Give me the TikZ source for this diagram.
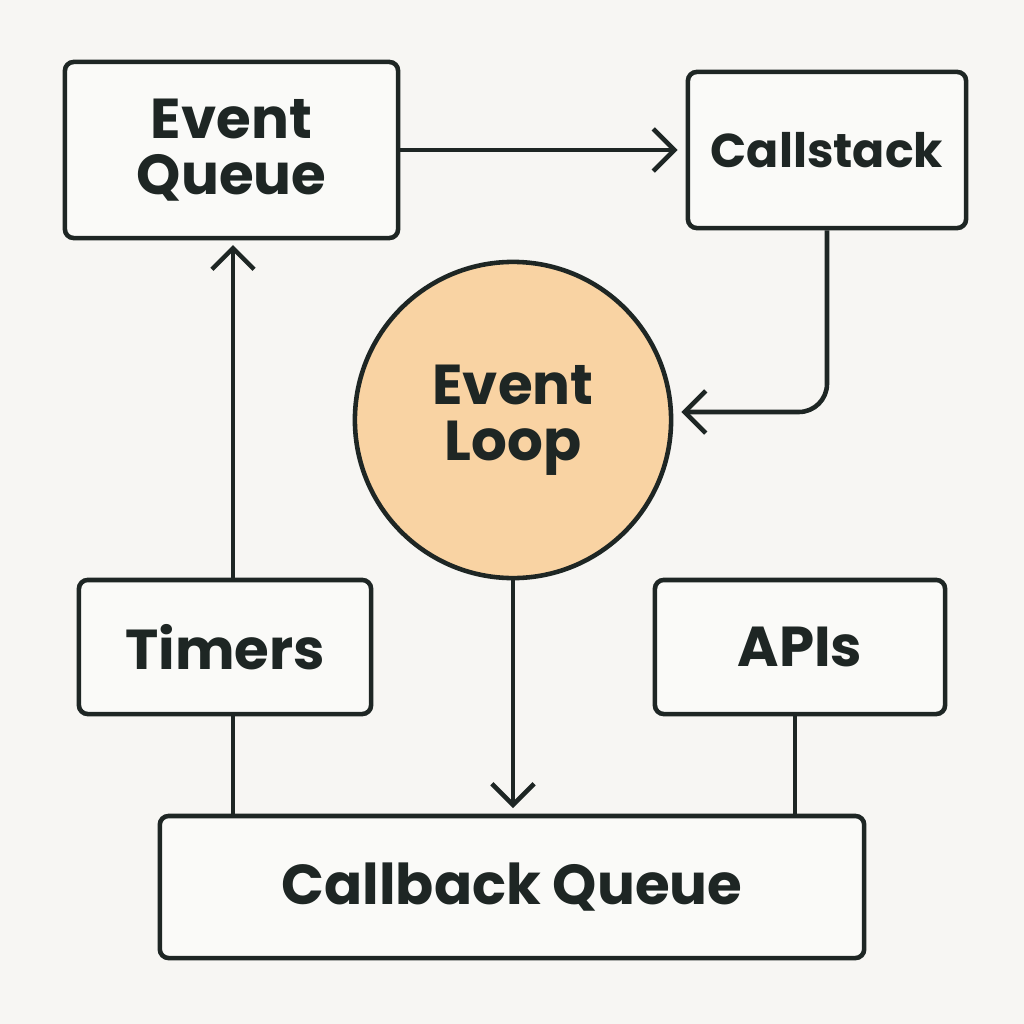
\documentclass[tikz,border=0pt]{standalone}
\usepackage{fontspec}
\setmainfont{Poppins}
\usetikzlibrary{arrows.meta}
\definecolor{bg}{HTML}{F7F6F3}
\definecolor{ink}{HTML}{1E2624}
\definecolor{loop}{HTML}{F9D3A3}
\begin{document}
\begin{tikzpicture}[x=0.01cm,y=-0.01cm,
  box/.style={draw=ink,line width=1.3pt,rounded corners=2.5pt,fill=white!40!bg,align=center,
    font=\fontsize{16}{18}\selectfont\bfseries,text=ink,inner sep=0pt},
  con/.style={draw=ink,line width=1.3pt},
  arr/.style={con,-{Straight Barb[length=6pt,width=12pt,line width=1.3pt]}}]
\fill[bg] (0,0) rectangle (1024,1024);
\node[box,minimum width=3.33cm,minimum height=1.76cm] (eq) at (231.5,150) {Event\\[-2pt]Queue};
\node[box,minimum width=2.78cm,minimum height=1.56cm,font=\fontsize{13.5}{16}\selectfont\bfseries] (cs) at (827,150) {Callstack};
\node[circle,draw=ink,line width=1.3pt,fill=loop,minimum size=3.16cm,align=center,
  font=\fontsize{16}{18}\selectfont\bfseries,text=ink] (el) at (513,420) {Event\\[-2pt]Loop};
\node[box,minimum width=2.92cm,minimum height=1.34cm] (tm) at (225,647) {Timers};
\node[box,minimum width=2.90cm,minimum height=1.34cm] (ap) at (800,647) {APIs};
\node[box,minimum width=7.04cm,minimum height=1.42cm] (cb) at (512,887) {Callback Queue};
\draw[arr] (eq.east) -- ([xshift=-0.08cm]cs.west);
\draw[arr,rounded corners=8pt] (cs.south) -- (827,412) -- ([xshift=0.08cm]el.east |- 0,412);
\draw[arr] (233,580) -- (233,245);
\draw[arr] (el.south) -- (513,808);
\draw[con] (233,714) -- (233,816);
\draw[con] (795,714) -- (795,816);
\end{tikzpicture}
\end{document}
